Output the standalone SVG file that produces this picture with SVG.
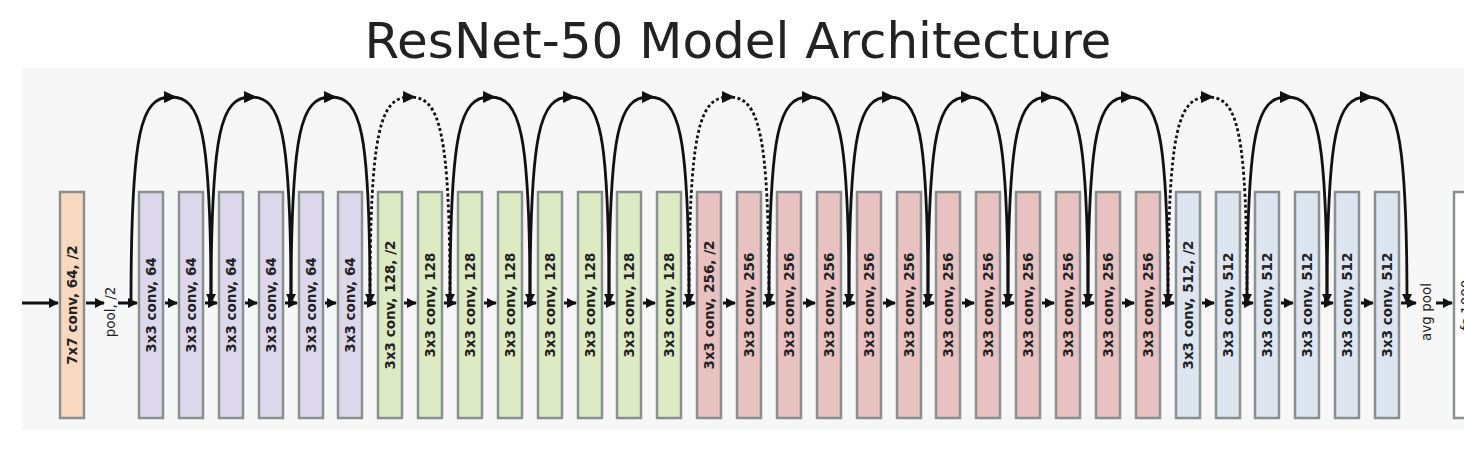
<svg xmlns="http://www.w3.org/2000/svg" width="1464" height="452" viewBox="0 0 1464 452">
<defs>
<marker id="ah" markerWidth="11" markerHeight="11" refX="9" refY="5" orient="auto" markerUnits="userSpaceOnUse"><path d="M0,0 L10,5 L0,10 Z" fill="#111"/></marker>
<marker id="am" markerWidth="14" markerHeight="14" refX="7" refY="6" orient="auto" markerUnits="userSpaceOnUse"><path d="M0,0 L13,6 L0,12 Z" fill="#111"/></marker>
<style>
.b{stroke:#8a8f8f;stroke-width:2.5}
.o{fill:#f8d9bf}.p{fill:#ddd7ec}.g{fill:#dcebc3}.r{fill:#e8c1c1}.u{fill:#dce5f0}.w{fill:#fff}
.t{font-family:"DejaVu Sans",sans-serif;font-size:13.5px;font-weight:bold;fill:#222;text-anchor:middle;dominant-baseline:central}
.h{stroke:#111;stroke-width:3;fill:none;marker-end:url(#ah)}
.a{stroke:#111;stroke-width:2.8;fill:none;marker-mid:url(#am);marker-end:url(#ah)}
.d{stroke-dasharray:3 2.5}
</style>
</defs>
<rect width="1464" height="452" fill="#fff"/>
<rect x="22" y="68" width="1442" height="362" fill="#f7f7f7"/>
<text x="738" y="58" font-family="'DejaVu Sans',sans-serif" font-size="50" text-anchor="middle" fill="#222">ResNet-50 Model Architecture</text>
<g id="n0"><rect class="b o" x="60" y="192" width="24" height="226"/><text class="t" transform="rotate(-90 72 305)" x="72" y="305">7x7 conv, 64, /2</text></g>
<g id="pool"><text class="t" style="font-weight:normal" transform="rotate(-90 110 312)" x="110" y="312">pool, /2</text></g>
<g id="n1"><rect class="b p" x="139" y="192" width="24" height="226"/><text class="t" transform="rotate(-90 151 305)" x="151" y="305">3x3 conv, 64</text></g>
<g id="n2"><rect class="b p" x="179" y="192" width="24" height="226"/><text class="t" transform="rotate(-90 191 305)" x="191" y="305">3x3 conv, 64</text></g>
<g id="n3"><rect class="b p" x="219" y="192" width="24" height="226"/><text class="t" transform="rotate(-90 231 305)" x="231" y="305">3x3 conv, 64</text></g>
<g id="n4"><rect class="b p" x="259" y="192" width="24" height="226"/><text class="t" transform="rotate(-90 271 305)" x="271" y="305">3x3 conv, 64</text></g>
<g id="n5"><rect class="b p" x="299" y="192" width="24" height="226"/><text class="t" transform="rotate(-90 311 305)" x="311" y="305">3x3 conv, 64</text></g>
<g id="n6"><rect class="b p" x="338" y="192" width="24" height="226"/><text class="t" transform="rotate(-90 350 305)" x="350" y="305">3x3 conv, 64</text></g>
<g id="n7"><rect class="b g" x="378" y="192" width="24" height="226"/><text class="t" transform="rotate(-90 390 305)" x="390" y="305">3x3 conv, 128, /2</text></g>
<g id="n8"><rect class="b g" x="418" y="192" width="24" height="226"/><text class="t" transform="rotate(-90 430 305)" x="430" y="305">3x3 conv, 128</text></g>
<g id="n9"><rect class="b g" x="458" y="192" width="24" height="226"/><text class="t" transform="rotate(-90 470 305)" x="470" y="305">3x3 conv, 128</text></g>
<g id="n10"><rect class="b g" x="498" y="192" width="24" height="226"/><text class="t" transform="rotate(-90 510 305)" x="510" y="305">3x3 conv, 128</text></g>
<g id="n11"><rect class="b g" x="538" y="192" width="24" height="226"/><text class="t" transform="rotate(-90 550 305)" x="550" y="305">3x3 conv, 128</text></g>
<g id="n12"><rect class="b g" x="578" y="192" width="24" height="226"/><text class="t" transform="rotate(-90 590 305)" x="590" y="305">3x3 conv, 128</text></g>
<g id="n13"><rect class="b g" x="617" y="192" width="24" height="226"/><text class="t" transform="rotate(-90 629 305)" x="629" y="305">3x3 conv, 128</text></g>
<g id="n14"><rect class="b g" x="657" y="192" width="24" height="226"/><text class="t" transform="rotate(-90 669 305)" x="669" y="305">3x3 conv, 128</text></g>
<g id="n15"><rect class="b r" x="697" y="192" width="24" height="226"/><text class="t" transform="rotate(-90 709 305)" x="709" y="305">3x3 conv, 256, /2</text></g>
<g id="n16"><rect class="b r" x="737" y="192" width="24" height="226"/><text class="t" transform="rotate(-90 749 305)" x="749" y="305">3x3 conv, 256</text></g>
<g id="n17"><rect class="b r" x="777" y="192" width="24" height="226"/><text class="t" transform="rotate(-90 789 305)" x="789" y="305">3x3 conv, 256</text></g>
<g id="n18"><rect class="b r" x="817" y="192" width="24" height="226"/><text class="t" transform="rotate(-90 829 305)" x="829" y="305">3x3 conv, 256</text></g>
<g id="n19"><rect class="b r" x="857" y="192" width="24" height="226"/><text class="t" transform="rotate(-90 869 305)" x="869" y="305">3x3 conv, 256</text></g>
<g id="n20"><rect class="b r" x="897" y="192" width="24" height="226"/><text class="t" transform="rotate(-90 909 305)" x="909" y="305">3x3 conv, 256</text></g>
<g id="n21"><rect class="b r" x="936" y="192" width="24" height="226"/><text class="t" transform="rotate(-90 948 305)" x="948" y="305">3x3 conv, 256</text></g>
<g id="n22"><rect class="b r" x="976" y="192" width="24" height="226"/><text class="t" transform="rotate(-90 988 305)" x="988" y="305">3x3 conv, 256</text></g>
<g id="n23"><rect class="b r" x="1016" y="192" width="24" height="226"/><text class="t" transform="rotate(-90 1028 305)" x="1028" y="305">3x3 conv, 256</text></g>
<g id="n24"><rect class="b r" x="1056" y="192" width="24" height="226"/><text class="t" transform="rotate(-90 1068 305)" x="1068" y="305">3x3 conv, 256</text></g>
<g id="n25"><rect class="b r" x="1096" y="192" width="24" height="226"/><text class="t" transform="rotate(-90 1108 305)" x="1108" y="305">3x3 conv, 256</text></g>
<g id="n26"><rect class="b r" x="1136" y="192" width="24" height="226"/><text class="t" transform="rotate(-90 1148 305)" x="1148" y="305">3x3 conv, 256</text></g>
<g id="n27"><rect class="b u" x="1176" y="192" width="24" height="226"/><text class="t" transform="rotate(-90 1188 305)" x="1188" y="305">3x3 conv, 512, /2</text></g>
<g id="n28"><rect class="b u" x="1216" y="192" width="24" height="226"/><text class="t" transform="rotate(-90 1228 305)" x="1228" y="305">3x3 conv, 512</text></g>
<g id="n29"><rect class="b u" x="1255" y="192" width="24" height="226"/><text class="t" transform="rotate(-90 1267 305)" x="1267" y="305">3x3 conv, 512</text></g>
<g id="n30"><rect class="b u" x="1295" y="192" width="24" height="226"/><text class="t" transform="rotate(-90 1307 305)" x="1307" y="305">3x3 conv, 512</text></g>
<g id="n31"><rect class="b u" x="1335" y="192" width="24" height="226"/><text class="t" transform="rotate(-90 1347 305)" x="1347" y="305">3x3 conv, 512</text></g>
<g id="n32"><rect class="b u" x="1375" y="192" width="24" height="226"/><text class="t" transform="rotate(-90 1387 305)" x="1387" y="305">3x3 conv, 512</text></g>
<g id="avgpool"><text class="t" style="font-weight:normal" transform="rotate(-90 1426 312)" x="1426" y="312">avg pool</text></g>
<g id="fc"><rect class="b w" x="1454" y="192" width="24" height="226"/><text class="t" style="font-weight:normal" transform="rotate(-90 1466 305)" x="1466" y="305">fc 1000</text></g>
<g id="connectors">
<path class="h" d="M22,303H58"/><path class="h" d="M86,303H104"/><path class="h" d="M118,303H137"/>
<path class="h" d="M165,303H177"/><path class="h" d="M205,303H217"/><path class="h" d="M245,303H257"/><path class="h" d="M285,303H297"/><path class="h" d="M325,303H336"/><path class="h" d="M364,303H376"/>
<path class="h" d="M404,303H416"/><path class="h" d="M444,303H456"/><path class="h" d="M484,303H496"/><path class="h" d="M524,303H536"/><path class="h" d="M564,303H576"/><path class="h" d="M604,303H615"/><path class="h" d="M643,303H655"/><path class="h" d="M683,303H695"/>
<path class="h" d="M723,303H735"/><path class="h" d="M763,303H775"/><path class="h" d="M803,303H815"/><path class="h" d="M843,303H855"/><path class="h" d="M883,303H895"/><path class="h" d="M923,303H934"/><path class="h" d="M962,303H974"/><path class="h" d="M1002,303H1014"/><path class="h" d="M1042,303H1054"/><path class="h" d="M1082,303H1094"/><path class="h" d="M1122,303H1134"/><path class="h" d="M1162,303H1174"/>
<path class="h" d="M1202,303H1214"/><path class="h" d="M1242,303H1253"/><path class="h" d="M1281,303H1293"/><path class="h" d="M1321,303H1333"/><path class="h" d="M1361,303H1373"/><path class="h" d="M1401,303H1416"/><path class="h" d="M1436,303H1452"/>
<path class="a" d="M131,303C131,130 141,97 171,97C201,97 211,130 211,303"/>
<path class="a" d="M211,303C211,130 221,97 251,97C281,97 291,130 291,303"/>
<path class="a" d="M291,303C291,130 301,97 331,97C361,97 370,130 370,303"/>
<path class="a d" d="M370,303C370,130 380,97 410,97C440,97 450,130 450,303"/>
<path class="a" d="M450,303C450,130 460,97 490,97C520,97 530,130 530,303"/>
<path class="a" d="M530,303C530,130 540,97 570,97C600,97 609,130 609,303"/>
<path class="a" d="M609,303C609,130 619,97 649,97C679,97 689,130 689,303"/>
<path class="a d" d="M689,303C689,130 699,97 729,97C759,97 769,130 769,303"/>
<path class="a" d="M769,303C769,130 779,97 809,97C839,97 849,130 849,303"/>
<path class="a" d="M849,303C849,130 859,97 889,97C919,97 928,130 928,303"/>
<path class="a" d="M928,303C928,130 938,97 968,97C998,97 1008,130 1008,303"/>
<path class="a" d="M1008,303C1008,130 1018,97 1048,97C1078,97 1088,130 1088,303"/>
<path class="a" d="M1088,303C1088,130 1098,97 1128,97C1158,97 1168,130 1168,303"/>
<path class="a d" d="M1168,303C1168,130 1178,97 1208,97C1238,97 1247,130 1247,303"/>
<path class="a" d="M1247,303C1247,130 1257,97 1287,97C1317,97 1327,130 1327,303"/>
<path class="a" d="M1327,303C1327,130 1337,97 1367,97C1397,97 1407,130 1407,303"/>
</g>
</svg>
